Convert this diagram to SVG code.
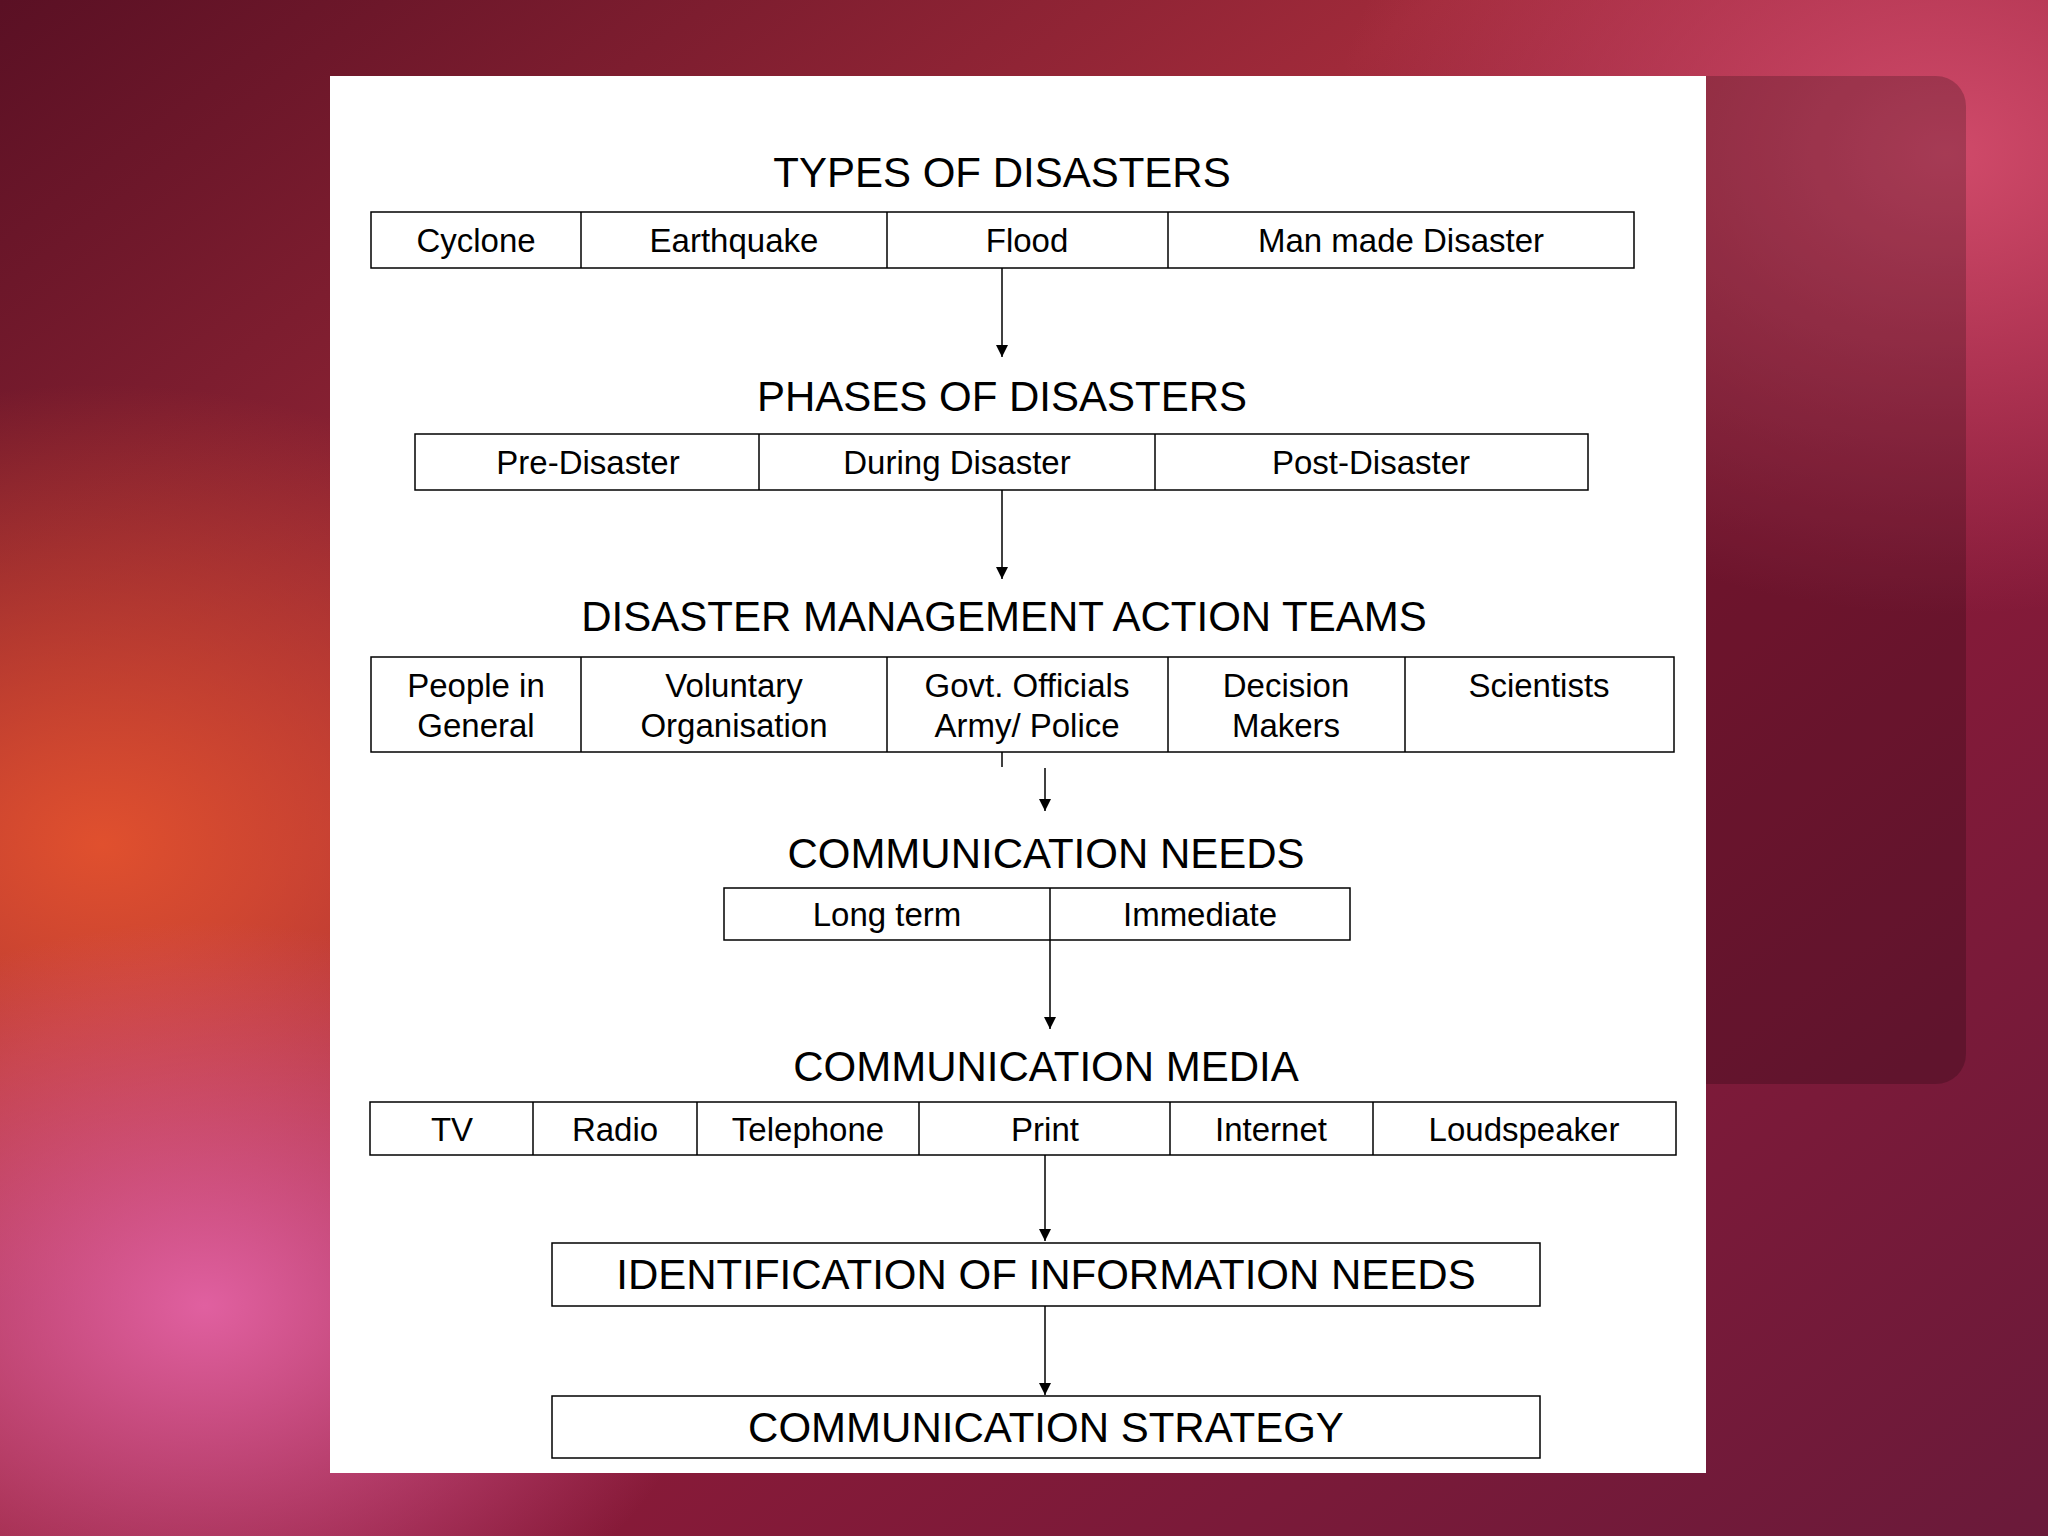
<svg xmlns="http://www.w3.org/2000/svg" width="2048" height="1536" viewBox="0 0 2048 1536">
<defs>
<linearGradient id="bg" x1="0" y1="0" x2="1" y2="1">
<stop offset="0" stop-color="#5a1024"/><stop offset="0.35" stop-color="#a02a3a"/><stop offset="0.6" stop-color="#8a1a38"/><stop offset="1" stop-color="#6a1a3a"/>
</linearGradient>
<radialGradient id="g1" cx="0.05" cy="0.55" r="0.3"><stop offset="0" stop-color="#e0502e"/><stop offset="1" stop-color="#e0502e" stop-opacity="0"/></radialGradient>
<radialGradient id="g2" cx="0.1" cy="0.85" r="0.25"><stop offset="0" stop-color="#e060a0"/><stop offset="1" stop-color="#e060a0" stop-opacity="0"/></radialGradient>
<radialGradient id="g3" cx="0.95" cy="0.1" r="0.3"><stop offset="0" stop-color="#d04a6a"/><stop offset="1" stop-color="#d04a6a" stop-opacity="0"/></radialGradient>
<marker id="ah" viewBox="0 0 12 12" refX="12" refY="6" markerWidth="12" markerHeight="12" markerUnits="userSpaceOnUse" orient="auto"><path d="M0,0L12,6L0,12z" fill="#000"/></marker>
</defs>
<style>
.b{fill:#fff;stroke:#000;stroke-width:1.5}
.l{stroke:#000;stroke-width:1.5}
.t{font-family:"Liberation Sans",Arial,sans-serif;font-size:42px;text-anchor:middle;fill:#000}
.c{font-family:"Liberation Sans",Arial,sans-serif;font-size:33px;text-anchor:middle;fill:#000}
.a{stroke:#000;stroke-width:1.5;marker-end:url(#ah)}
</style>
<rect width="2048" height="1536" fill="url(#bg)"/>
<rect width="2048" height="1536" fill="url(#g1)"/>
<rect width="2048" height="1536" fill="url(#g2)"/>
<rect width="2048" height="1536" fill="url(#g3)"/>
<rect x="1650" y="76" width="316" height="1008" rx="30" fill="#000" opacity="0.2"/>
<rect x="330" y="76" width="1376" height="1397" fill="#fff"/>
<g id="types">
<text class="t" x="1002" y="187">TYPES OF DISASTERS</text>
<rect class="b" x="371" y="212" width="1263" height="56"/>
<line class="l" x1="581" y1="212" x2="581" y2="268"/><line class="l" x1="887" y1="212" x2="887" y2="268"/><line class="l" x1="1168" y1="212" x2="1168" y2="268"/>
<text class="c" x="476" y="252">Cyclone</text><text class="c" x="734" y="252">Earthquake</text><text class="c" x="1027" y="252">Flood</text><text class="c" x="1401" y="252">Man made Disaster</text>
</g>
<g id="phases">
<text class="t" x="1002" y="411">PHASES OF DISASTERS</text>
<rect class="b" x="415" y="434" width="1173" height="56"/>
<line class="l" x1="759" y1="434" x2="759" y2="490"/><line class="l" x1="1155" y1="434" x2="1155" y2="490"/>
<text class="c" x="588" y="474">Pre-Disaster</text><text class="c" x="957" y="474">During Disaster</text><text class="c" x="1371" y="474">Post-Disaster</text>
</g>
<g id="teams">
<text class="t" x="1004" y="631">DISASTER MANAGEMENT ACTION TEAMS</text>
<rect class="b" x="371" y="657" width="1303" height="95"/>
<line class="l" x1="581" y1="657" x2="581" y2="752"/><line class="l" x1="887" y1="657" x2="887" y2="752"/><line class="l" x1="1168" y1="657" x2="1168" y2="752"/><line class="l" x1="1405" y1="657" x2="1405" y2="752"/>
<text class="c" x="476" y="697">People in</text><text class="c" x="476" y="737">General</text>
<text class="c" x="734" y="697">Voluntary</text><text class="c" x="734" y="737">Organisation</text>
<text class="c" x="1027" y="697">Govt. Officials</text><text class="c" x="1027" y="737">Army/ Police</text>
<text class="c" x="1286" y="697">Decision</text><text class="c" x="1286" y="737">Makers</text>
<text class="c" x="1539" y="697">Scientists</text>
</g>
<g id="needs">
<text class="t" x="1046" y="868">COMMUNICATION NEEDS</text>
<rect class="b" x="724" y="888" width="626" height="52"/>
<line class="l" x1="1050" y1="888" x2="1050" y2="940"/>
<text class="c" x="887" y="926">Long term</text><text class="c" x="1200" y="926">Immediate</text>
</g>
<g id="media">
<text class="t" x="1046" y="1081">COMMUNICATION MEDIA</text>
<rect class="b" x="370" y="1102" width="1306" height="53"/>
<line class="l" x1="533" y1="1102" x2="533" y2="1155"/><line class="l" x1="697" y1="1102" x2="697" y2="1155"/><line class="l" x1="919" y1="1102" x2="919" y2="1155"/><line class="l" x1="1170" y1="1102" x2="1170" y2="1155"/><line class="l" x1="1373" y1="1102" x2="1373" y2="1155"/>
<text class="c" x="452" y="1141">TV</text><text class="c" x="615" y="1141">Radio</text><text class="c" x="808" y="1141">Telephone</text><text class="c" x="1045" y="1141">Print</text><text class="c" x="1271" y="1141">Internet</text><text class="c" x="1524" y="1141">Loudspeaker</text>
</g>
<g id="ident">
<rect class="b" x="552" y="1243" width="988" height="63"/>
<text class="t" x="1046" y="1289">IDENTIFICATION OF INFORMATION NEEDS</text>
</g>
<g id="strategy">
<rect class="b" x="552" y="1396" width="988" height="62"/>
<text class="t" x="1046" y="1442">COMMUNICATION STRATEGY</text>
</g>
<g id="connectors">
<line class="a" x1="1002" y1="268" x2="1002" y2="357"/>
<line class="a" x1="1002" y1="490" x2="1002" y2="579"/>
<line class="l" x1="1002" y1="752" x2="1002" y2="767"/>
<line class="a" x1="1045" y1="768" x2="1045" y2="811"/>
<line class="a" x1="1050" y1="940" x2="1050" y2="1029"/>
<line class="a" x1="1045" y1="1155" x2="1045" y2="1241"/>
<line class="a" x1="1045" y1="1306" x2="1045" y2="1395"/>
</g>
</svg>
